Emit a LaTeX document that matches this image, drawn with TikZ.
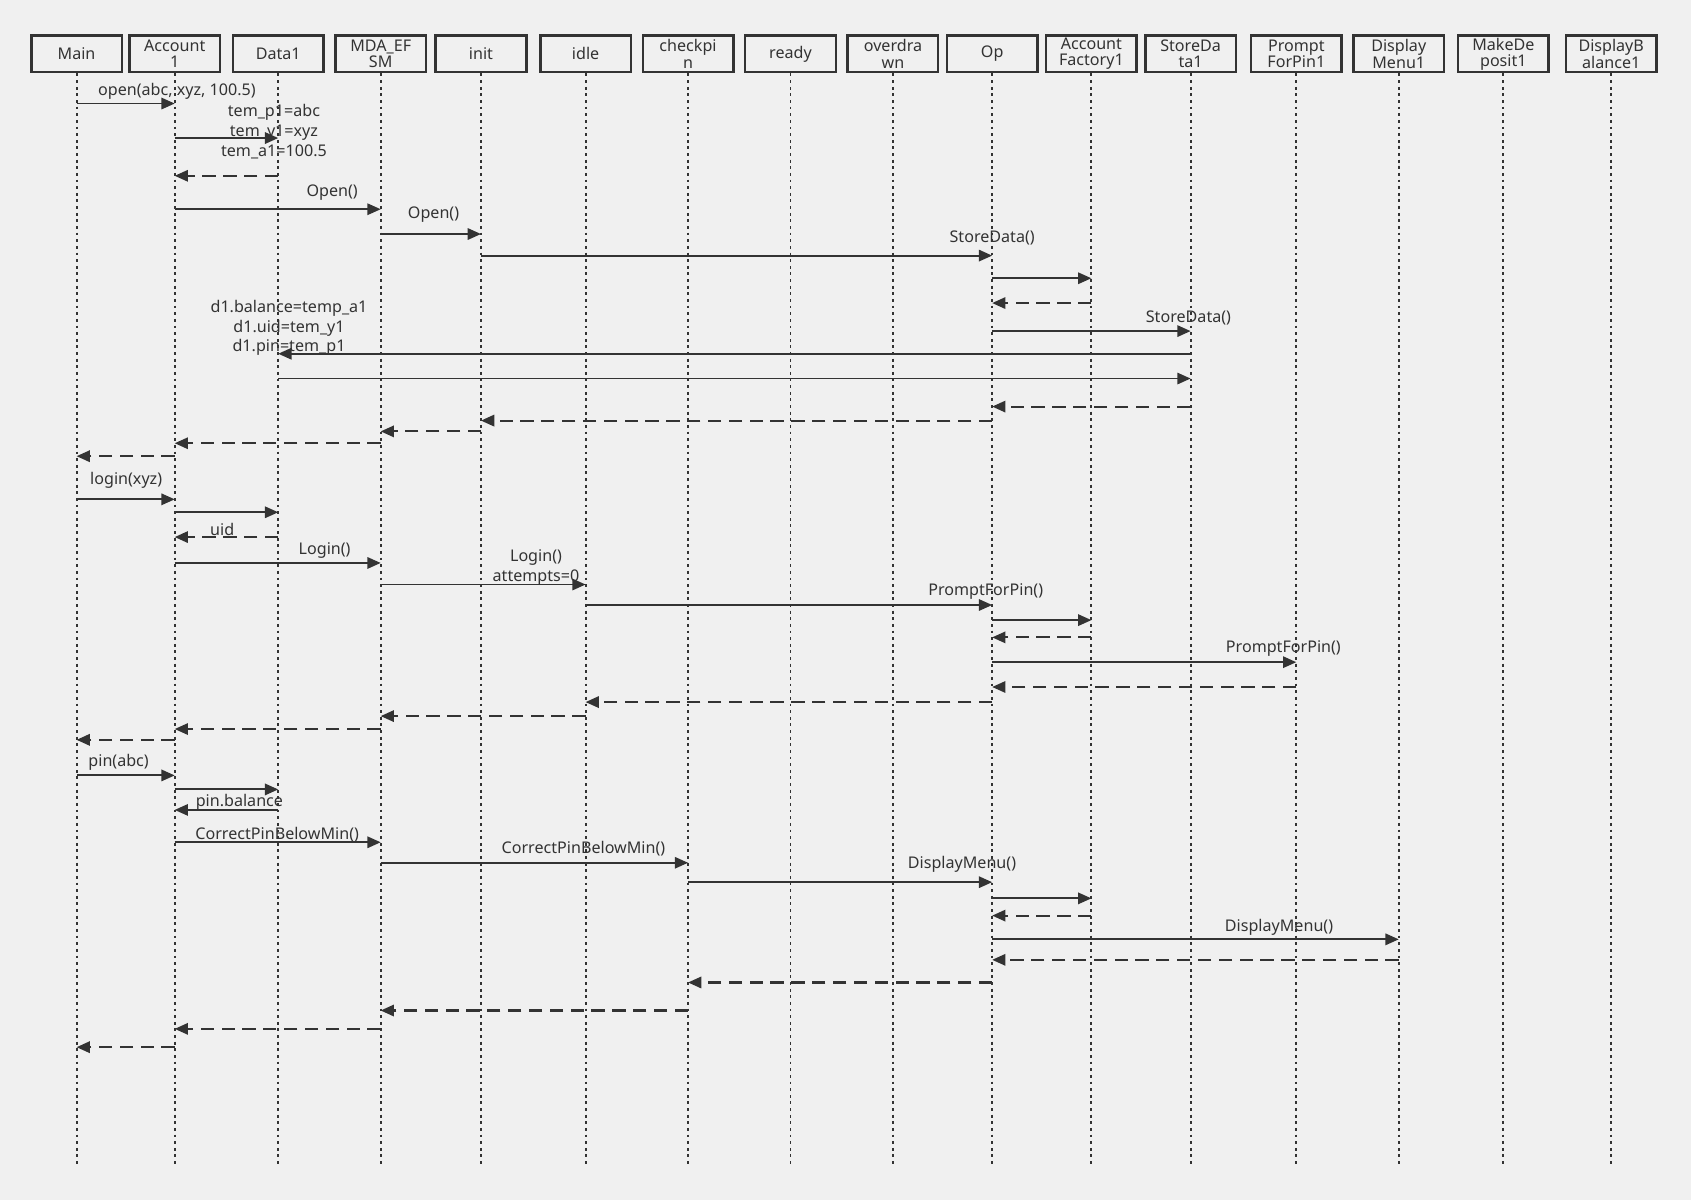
\documentclass[tikz,border=0pt]{standalone}
\usepackage{fontspec}
\setmainfont{Noto Sans}
\usetikzlibrary{arrows.meta}
\definecolor{ink}{HTML}{333333}
\begin{document}
\begin{tikzpicture}[x=0.02cm,y=-0.02cm,
  obj/.style={draw=ink,line width=1.3pt,fill=white!94!black,minimum width=84*0.02cm,minimum height=34*0.02cm,inner sep=0pt,align=center,font=\fontsize{8.5}{8.5}\selectfont,text=ink},
  life/.style={ink,line width=1pt,dash pattern=on 1.5pt off 2pt},
  msg/.style={ink,line width=1pt,-{Triangle[length=7pt,width=6pt]}},
  ret/.style={ink,line width=1.1pt,dash pattern=on 7pt off 4pt,-{Triangle[length=7pt,width=6pt]}},
  lbl/.style={font=\fontsize{8.5}{10.5}\selectfont,text=ink,align=center,inner sep=0pt}]
\fill[white!94!black] (0,0) rectangle (1568,1113);
\foreach \n/\x/\t in {Main/71/Main,Acc/162/Account\\1,Data/258/Data1,MDA/353/MDA\_EF\\SM,Init/446/init,Idle/543/idle,Chk/638/checkpi\\n,Ready/733/ready,Over/828/overdra\\wn,Op/920/Op,AF/1012/Account\\Factory1,SD/1104/StoreDa\\ta1,PFP/1202/Prompt\\ForPin1,DM/1297/Display\\Menu1,MD/1394/MakeDe\\posit1,DB/1494/DisplayB\\alance1}{
  \node[obj] (\n) at (\x,50) {\t};
  \coordinate (\n e) at (\x,1080);
  \draw[life] (\n) -- (\n e);
}
\newcommand\mm[4]{\draw[#4] (#1 |- 0,#3) -- (#2 |- 0,#3);}
\mm{Main}{Acc}{96}{msg}
\node[lbl] at (164,85) {open(abc, xyz, 100.5)};
\mm{Acc}{Data}{128}{msg}
\node[lbl] at (254,122) {tem\_p1=abc\\tem\_y1=xyz\\tem\_a1=100.5};
\mm{Data}{Acc}{163}{ret}
\mm{Acc}{MDA}{194}{msg}
\node[lbl] at (308,179) {Open()};
\mm{MDA}{Init}{217}{msg}
\node[lbl] at (402,199) {Open()};
\mm{Init}{Op}{237}{msg}
\node[lbl] at (920,221) {StoreData()};
\mm{Op}{AF}{258}{msg}
\mm{AF}{Op}{281}{ret}
\mm{Op}{SD}{307}{msg}
\node[lbl] at (1102,295) {StoreData()};
\mm{SD}{Data}{328}{msg}
\node[lbl] at (268,304) {d1.balance=temp\_a1\\d1.uid=tem\_y1\\d1.pin=tem\_p1};
\mm{Data}{SD}{351}{msg}
\mm{SD}{Op}{377}{ret}
\mm{Op}{Init}{390}{ret}
\mm{Init}{MDA}{400}{ret}
\mm{MDA}{Acc}{411}{ret}
\mm{Acc}{Main}{423}{ret}
\mm{Main}{Acc}{463}{msg}
\node[lbl] at (117,445) {login(xyz)};
\mm{Acc}{Data}{475}{msg}
\mm{Data}{Acc}{498}{ret}
\node[lbl] at (206,491) {uid};
\mm{Acc}{MDA}{522}{msg}
\node[lbl] at (301,510) {Login()};
\mm{MDA}{Idle}{542}{msg}
\node[lbl] at (497,526) {Login()\\attempts=0};
\mm{Idle}{Op}{561}{msg}
\node[lbl] at (914,548) {PromptForPin()};
\mm{Op}{AF}{575}{msg}
\mm{AF}{Op}{591}{ret}
\mm{Op}{PFP}{614}{msg}
\node[lbl] at (1190,601) {PromptForPin()};
\mm{PFP}{Op}{637}{ret}
\mm{Op}{Idle}{651}{ret}
\mm{Idle}{MDA}{664}{ret}
\mm{MDA}{Acc}{676}{ret}
\mm{Acc}{Main}{686}{ret}
\mm{Main}{Acc}{719}{msg}
\node[lbl] at (110,707) {pin(abc)};
\mm{Acc}{Data}{732}{msg}
\mm{Data}{Acc}{751}{msg}
\node[lbl] at (222,744) {pin.balance};
\mm{Acc}{MDA}{781}{msg}
\node[lbl] at (257,774) {CorrectPinBelowMin()};
\mm{MDA}{Chk}{800}{msg}
\node[lbl] at (541,787) {CorrectPinBelowMin()};
\mm{Chk}{Op}{818}{msg}
\node[lbl] at (892,801) {DisplayMenu()};
\mm{Op}{AF}{833}{msg}
\mm{AF}{Op}{849}{ret}
\mm{Op}{DM}{871}{msg}
\node[lbl] at (1186,860) {DisplayMenu()};
\mm{DM}{Op}{890}{ret}
\mm{Op}{Chk}{911}{ret}
\mm{Chk}{MDA}{937}{ret}
\mm{MDA}{Acc}{954}{ret}
\mm{Acc}{Main}{971}{ret}
\end{tikzpicture}
\end{document}
